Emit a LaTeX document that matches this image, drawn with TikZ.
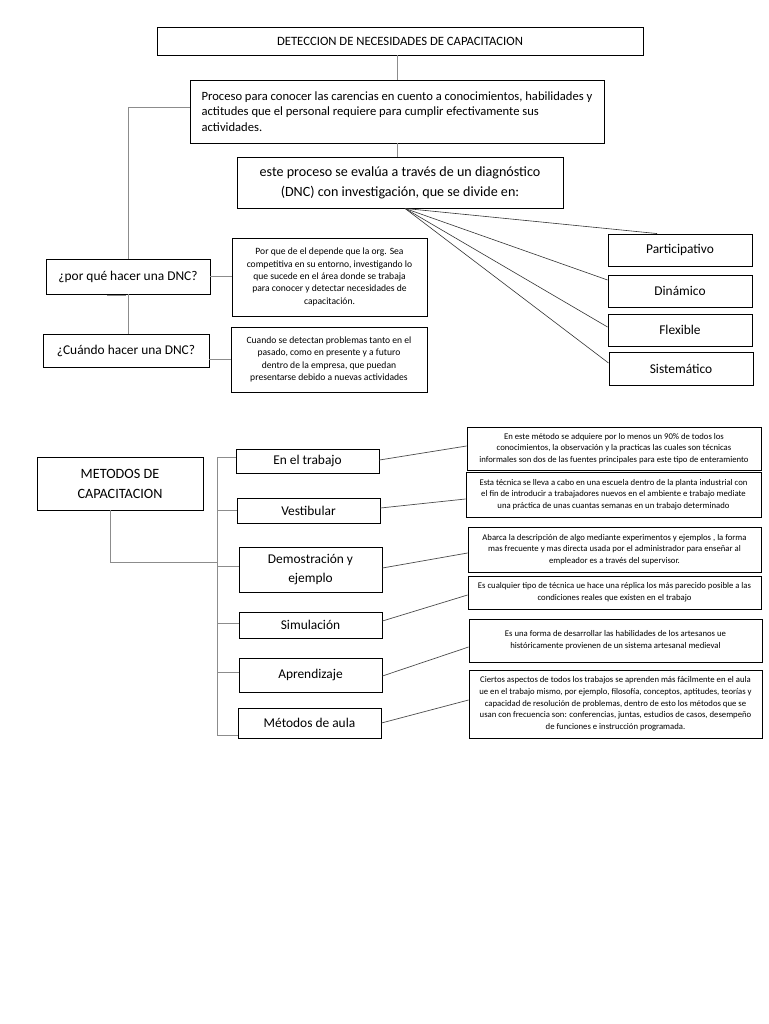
\documentclass[tikz,border=0pt]{standalone}
\usepackage{fontspec}
\setmainfont{Carlito}
\begin{document}
\begin{tikzpicture}[x=1pt,y=-1pt,
  bx/.style={draw=black, line width=0.9pt, rectangle, inner xsep=3pt, inner ysep=0pt, align=center, anchor=center},
  conn/.style={draw=black!45, line width=1pt},
  fanl/.style={draw=black!80, line width=0.6pt},
  lnk/.style={draw=black!70, line width=0.7pt},
  ftitle/.style={font=\fontsize{12.7}{14}\selectfont},
  fproc/.style={font=\fontsize{12.6}{15.5}\selectfont},
  feste/.style={font=\fontsize{14.1}{20}\selectfont},
  fq/.style={font=\fontsize{13.4}{16}\selectfont},
  fmid/.style={font=\fontsize{9.6}{12.3}\selectfont},
  fopt/.style={font=\fontsize{13.4}{15}\selectfont},
  fmet/.style={font=\fontsize{14.2}{20}\selectfont},
  fsmall/.style={font=\fontsize{8.7}{11.7}\selectfont}
]
\useasboundingbox (0,0) rectangle (768,1024);
\fill[white] (0,0) rectangle (768,1024);

% ---------- top part ----------
\node[bx,ftitle,minimum width=486pt,minimum height=28pt] (title) at (400,41) {DETECCION DE NECESIDADES DE CAPACITACION};
\node[bx,fproc,align=left,minimum width=414pt,minimum height=63pt] (proc) at (397,111.5) {Proceso para conocer las carencias en cuento a conocimientos, habilidades y\\actitudes que el personal requiere para cumplir efectivamente sus\\actividades.};
\node[bx,feste,minimum width=326pt,minimum height=51pt] (este) at (400,182.5) {este proceso se evalúa a través de un diagnóstico\\(DNC) con investigación, que se divide en:};

\node[bx,fq,minimum width=164pt,minimum height=35pt] (por) at (128,276.5) {¿por qué hacer una DNC?};
\node[bx,fq,minimum width=166pt,minimum height=33pt] (cuan) at (126,350.5) {¿Cuándo hacer una DNC?};

\node[bx,fmid,minimum width=195pt,minimum height=78pt] (porq) at (329.5,277) {Por que de el depende que la org. Sea\\competitiva en su entorno, investigando lo\\que sucede en el área donde se trabaja\\para conocer y detectar necesidades de\\capacitación.};
\node[bx,fmid,minimum width=196pt,minimum height=65pt] (cuando) at (329,359.5) {Cuando se detectan problemas tanto en el\\pasado, como en presente y a futuro\\dentro de la empresa, que puedan\\presentarse debido a nuevas actividades};

\node[bx,fopt,minimum width=144pt,minimum height=32pt] (part) at (680,250) {Participativo};
\node[bx,fopt,minimum width=144pt,minimum height=32pt] (din) at (680,291) {Dinámico};
\node[bx,fopt,minimum width=144pt,minimum height=32pt] (flex) at (680,330) {Flexible};
\node[bx,fopt,minimum width=144pt,minimum height=33pt] (sist) at (681,368.5) {Sistemático};

\draw[conn] (proc.north) -- (proc.north |- title.south);
\draw[conn] (proc.south) -- (proc.south |- este.north);
\draw[conn] ([yshift=3.5pt]proc.west) -| (por.north);
\draw[conn] (por.south) -- (por.south |- cuan.north);
\draw[conn] (107,295) -- (126,295);
\draw[conn] (por.east) -- (por.east -| porq.west);
\draw[conn] (cuando.west) -- (cuando.west -| cuan.east);

\coordinate (fan) at ([xshift=5pt]este.south);
\draw[fanl] (fan) -- ([xshift=-23pt]part.north);
\draw[fanl] (fan) -- ([yshift=11pt]din.west);
\draw[fanl] (fan) -- ([yshift=3pt]flex.west);
\draw[fanl] (fan) -- ([yshift=5.5pt]sist.west);

% ---------- bottom part ----------
\node[bx,fmet,minimum width=166pt,minimum height=53pt] (met) at (120,483.5) {METODOS DE\\CAPACITACION};

\node[bx,fopt,minimum width=143pt,minimum height=24pt] (t1) at (307.5,461) {En el trabajo};
\node[bx,fopt,minimum width=143pt,minimum height=25pt] (t2) at (308.5,510.5) {Vestibular};
\node[bx,fopt,font=\fontsize{13.4}{19}\selectfont,minimum width=143pt,minimum height=45pt] (t3) at (310.5,569.5) {Demostración y\\ejemplo};
\node[bx,fopt,minimum width=143pt,minimum height=26pt] (t4) at (310.5,625) {Simulación};
\node[bx,fopt,minimum width=143pt,minimum height=34pt] (t5) at (310.5,675) {Aprendizaje};
\node[bx,fopt,minimum width=143pt,minimum height=30pt] (t6) at (309.5,723) {Métodos de aula};

\coordinate (sp) at (217,0);
\coordinate (sptop) at ([yshift=4pt]t1.west -| sp);
\coordinate (spbot) at ([yshift=-12pt]t6.west -| sp);
\draw[conn] (sptop) -- (spbot);
\draw[conn] ([xshift=-10pt]met.south) |- (217,562);
\draw[conn] ([yshift=4pt]t1.west) -- (sptop);
\draw[conn] (t2.west) -- (t2.west -| sp);
\draw[conn] ([yshift=3.5pt]t3.west) -- ([yshift=3.5pt]t3.west -| sp);
\draw[conn] ([yshift=2pt]t4.west) -- ([yshift=2pt]t4.west -| sp);
\draw[conn] ([yshift=3pt]t5.west) -- ([yshift=3pt]t5.west -| sp);
\draw[conn] ([yshift=-12pt]t6.west) -- (spbot);

\node[bx,fsmall,minimum width=294pt,minimum height=43pt] (d1) at (614,448.5) {En este método se adquiere por lo menos un 90\% de todos los\\conocimientos, la observación y la practicas las cuales son técnicas\\informales son dos de las fuentes principales para este tipo de enteramiento};
\node[bx,fsmall,minimum width=295pt,minimum height=45pt] (d2) at (613.5,494.5) {Esta técnica se lleva a cabo en una escuela dentro de la planta industrial con\\el fin de introducir a trabajadores nuevos en el ambiente e trabajo mediate\\una práctica de unas cuantas semanas en un trabajo determinado};
\node[bx,fsmall,minimum width=293pt,minimum height=45pt] (d3) at (614.5,549.5) {Abarca la descripción de algo mediante experimentos y ejemplos , la forma\\mas frecuente y mas directa usada por el administrador para enseñar al\\empleador es a través del supervisor.};
\node[bx,fsmall,minimum width=293pt,minimum height=33pt] (d4) at (614.5,592.5) {Es cualquier tipo de técnica ue hace una réplica los más parecido posible a las\\condiciones reales que existen en el trabajo};
\node[bx,fsmall,minimum width=293pt,minimum height=43pt] (d5) at (615.5,640.5) {Es una forma de desarrollar las habilidades de los artesanos ue\\históricamente provienen de un sistema artesanal medieval};
\node[bx,fsmall,minimum width=293pt,minimum height=68pt] (d6) at (615.5,704) {Ciertos aspectos de todos los trabajos se aprenden más fácilmente en el aula\\ue en el trabajo mismo, por ejemplo, filosofía, conceptos, aptitudes, teorías y\\capacidad de resolución de problemas, dentro de esto los métodos que se\\usan con frecuencia son: conferencias, juntas, estudios de casos, desempeño\\de funciones e instrucción programada.};

\draw[lnk] ([yshift=1pt]t1.east) -- ([yshift=2.5pt]d1.west);
\draw[lnk] ([yshift=2.5pt]t2.east) -- ([yshift=-4.5pt]d2.west);
\draw[lnk] ([yshift=1.5pt]t3.east) -- ([yshift=-3.5pt]d3.west);
\draw[lnk] ([yshift=4pt]t4.east) -- ([yshift=-2.5pt]d4.west);
\draw[lnk] ([yshift=-1pt]t5.east) -- ([yshift=-6.5pt]d5.west);
\draw[lnk] (t6.east) -- ([yshift=4pt]d6.west);
\end{tikzpicture}
\end{document}
